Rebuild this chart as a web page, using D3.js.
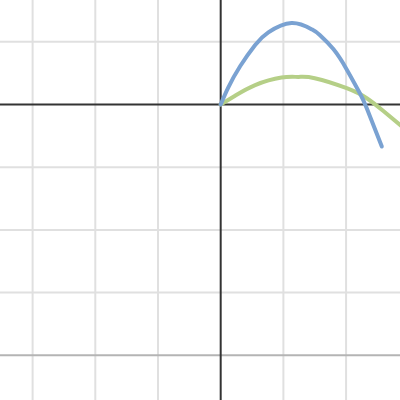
<!DOCTYPE html>
<html>
<head>
<meta charset="utf-8">
<script src="https://cdn.jsdelivr.net/npm/d3@7"></script>
<style>
	html, body { margin: 0; padding: 0; background: #fff; overflow: hidden; }
</style>
</head>
<body>
<div id="chart"></div>
<script>

// DATA
const xGrid = [-3, -2, -1, 1, 2];
const yGrid = [1, -1, -2, -3];
const yDarkLine = [-4];

// blue curve
const blueX = [0, 0.12, 0.31, 0.55, 0.76, 1.13, 1.45, 1.58, 1.80, 2.01, 2.22, 2.33, 2.57];
const blueY = [0, 0.27, 0.61, 0.95, 1.15, 1.30, 1.20, 1.11, 0.88, 0.56, 0.18, -0.06, -0.67];

// green curve
const greenX = [0, 0.23, 0.55, 0.97, 1.24, 1.50, 2.01, 2.33, 2.59, 2.90];
const greenY = [0, 0.14, 0.31, 0.43, 0.44, 0.42, 0.26, 0.10, -0.10, -0.36];


// CHART
function drawChart() {
	const w = 400;
	const h = 400;

	// one grid unit is about 62.7 px, origin near (220.7, 104.5)
	const xScale = d3.scaleLinear()
		.domain([-3.52, 2.86])
		.range([0, w]);
	const yScale = d3.scaleLinear()
		.domain([1.667, -4.713])
		.range([0, h]);

	const svg = d3.select("#chart")
		.append("svg")
		.attr("width", w)
		.attr("height", h);

	svg.append("defs").append("clipPath")
		.attr("id", "clip")
		.append("rect")
		.attr("width", w)
		.attr("height", h);

	// grid
	svg.selectAll(".vgrid")
		.data(xGrid)
		.enter()
		.append("line")
		.attr("x1", d => xScale(d))
		.attr("x2", d => xScale(d))
		.attr("y1", 0)
		.attr("y2", h)
		.attr("stroke", "#e0e0e0")
		.attr("stroke-width", 2);

	svg.selectAll(".hgrid")
		.data(yGrid)
		.enter()
		.append("line")
		.attr("x1", 0)
		.attr("x2", w)
		.attr("y1", d => yScale(d))
		.attr("y2", d => yScale(d))
		.attr("stroke", "#e0e0e0")
		.attr("stroke-width", 2);

	svg.selectAll(".dark")
		.data(yDarkLine)
		.enter()
		.append("line")
		.attr("x1", 0)
		.attr("x2", w)
		.attr("y1", d => yScale(d))
		.attr("y2", d => yScale(d))
		.attr("stroke", "#b4b4b4")
		.attr("stroke-width", 2);

	// axes
	svg.append("line")
		.attr("x1", 0).attr("x2", w)
		.attr("y1", yScale(0)).attr("y2", yScale(0))
		.attr("stroke", "#333")
		.attr("stroke-width", 2);
	svg.append("line")
		.attr("x1", xScale(0)).attr("x2", xScale(0))
		.attr("y1", 0).attr("y2", h)
		.attr("stroke", "#333")
		.attr("stroke-width", 2);

	// curves
	const line = d3.line()
		.x(d => xScale(d[0]))
		.y(d => yScale(d[1]))
		.curve(d3.curveNatural);

	const green = greenX.map((x, i) => [x, greenY[i]]);
	const blue = blueX.map((x, i) => [x, blueY[i]]);

	svg.append("path")
		.attr("clip-path", "url(#clip)")
		.attr("d", line(green))
		.attr("fill", "none")
		.attr("stroke", "#b5cf87")
		.attr("stroke-width", 4)
		.attr("stroke-linecap", "round");

	svg.append("path")
		.attr("clip-path", "url(#clip)")
		.attr("d", line(blue))
		.attr("fill", "none")
		.attr("stroke", "#7aa2d2")
		.attr("stroke-width", 4)
		.attr("stroke-linecap", "round");
}

document.addEventListener('DOMContentLoaded', () => {
	drawChart();
});
</script>
</body>
</html>
